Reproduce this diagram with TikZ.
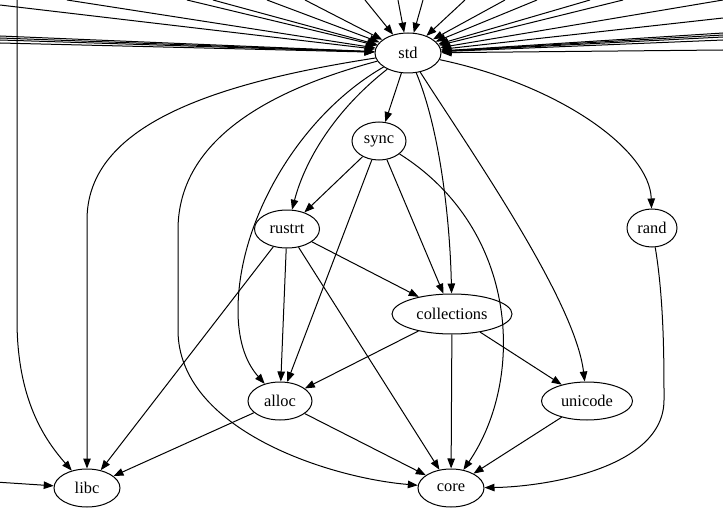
\documentclass[tikz,border=0pt]{standalone}
\usepackage{fontspec}
\setmainfont{Liberation Serif}
\usetikzlibrary{shapes.geometric,arrows.meta}
\tikzset{
  nd/.style={ellipse,draw,line width=1pt,inner sep=0pt,minimum height=38pt,font=\fontsize{16.4}{18}\selectfont},
  e/.style={draw,line width=1pt,-{Triangle[length=10pt,width=7.5pt]}},
}
\begin{document}
\begin{tikzpicture}[x=1pt,y=-1pt]
\useasboundingbox (0,0) rectangle (723,524);
\clip (0,0) rectangle (723,524);
\node[nd,minimum width=66pt,minimum height=40pt] (std) at (408,53) {std};
\node[nd,minimum width=54pt] (sync) at (379,141) {sync};
\node[nd,minimum width=65pt] (rustrt) at (287,229) {rustrt};
\node[nd,minimum width=50pt] (rand) at (652,228) {rand};
\node[nd,minimum width=120pt,minimum height=40pt] (collections) at (452,314) {collections};
\node[nd,minimum width=64pt] (alloc) at (280,401) {alloc};
\node[nd,minimum width=91pt] (unicode) at (587,401) {unicode};
\node[nd,minimum width=66pt] (libc) at (87,488) {libc};
\node[nd,minimum width=66pt] (core) at (451,488) {core};
% incoming edges from outside
\foreach \px/\py [count=\i] in {0/5,0/36,0/38,0/40,0/43,67/0,187/0,213/0,267/0,305/0,365/0,398/0,423/0,465/0,505/0,537/0,590/0,623/0,723/0,723/18,723/33,723/35,723/37,723/40,723/50}{
  \coordinate (in\i) at (\px,\py);
  \draw[e] (in\i) -- (std);
}
\coordinate (extA) at (17,-5);
\coordinate (extB) at (-5,482);
\draw[e] (extA) -- (17,320) .. controls (17,400) and (45,440) .. (libc);
\draw[e] (extB) -- (libc);
% std edges
\draw[e] (std) -- (sync);
\draw[e] (std) .. controls (200,85) and (87,130) .. (87,220) -- (libc);
\draw[e] (std) .. controls (250,95) and (178,150) .. (178,230) -- (178,330) .. controls (178,430) and (330,478) .. (core);
\draw[e] (std) .. controls (300,115) and (238,220) .. (238,310) .. controls (238,345) and (248,365) .. (alloc);
\draw[e] (std) .. controls (335,110) and (305,160) .. (rustrt);
\draw[e] (std) .. controls (440,130) and (450,220) .. (collections);
\draw[e] (std) .. controls (470,150) and (575,300) .. (unicode);
\draw[e] (std) .. controls (560,85) and (650,150) .. (rand);
% sync edges
\draw[e] (sync) -- (rustrt);
\draw[e] (sync) -- (alloc);
\draw[e] (sync) -- (collections);
\draw[e] (sync) .. controls (520,230) and (525,380) .. (core);
% rustrt edges
\draw[e] (rustrt) -- (collections);
\draw[e] (rustrt) -- (alloc);
\draw[e] (rustrt) -- (libc);
\draw[e] (rustrt) -- (core);
% collections edges
\draw[e] (collections) -- (alloc);
\draw[e] (collections) -- (core);
\draw[e] (collections) -- (unicode);
% others
\draw[e] (alloc) -- (libc);
\draw[e] (alloc) -- (core);
\draw[e] (unicode) -- (core);
\draw[e] (rand) .. controls (664,300) and (664,360) .. (664,400) .. controls (664,470) and (540,487) .. (core);
\end{tikzpicture}
\end{document}
